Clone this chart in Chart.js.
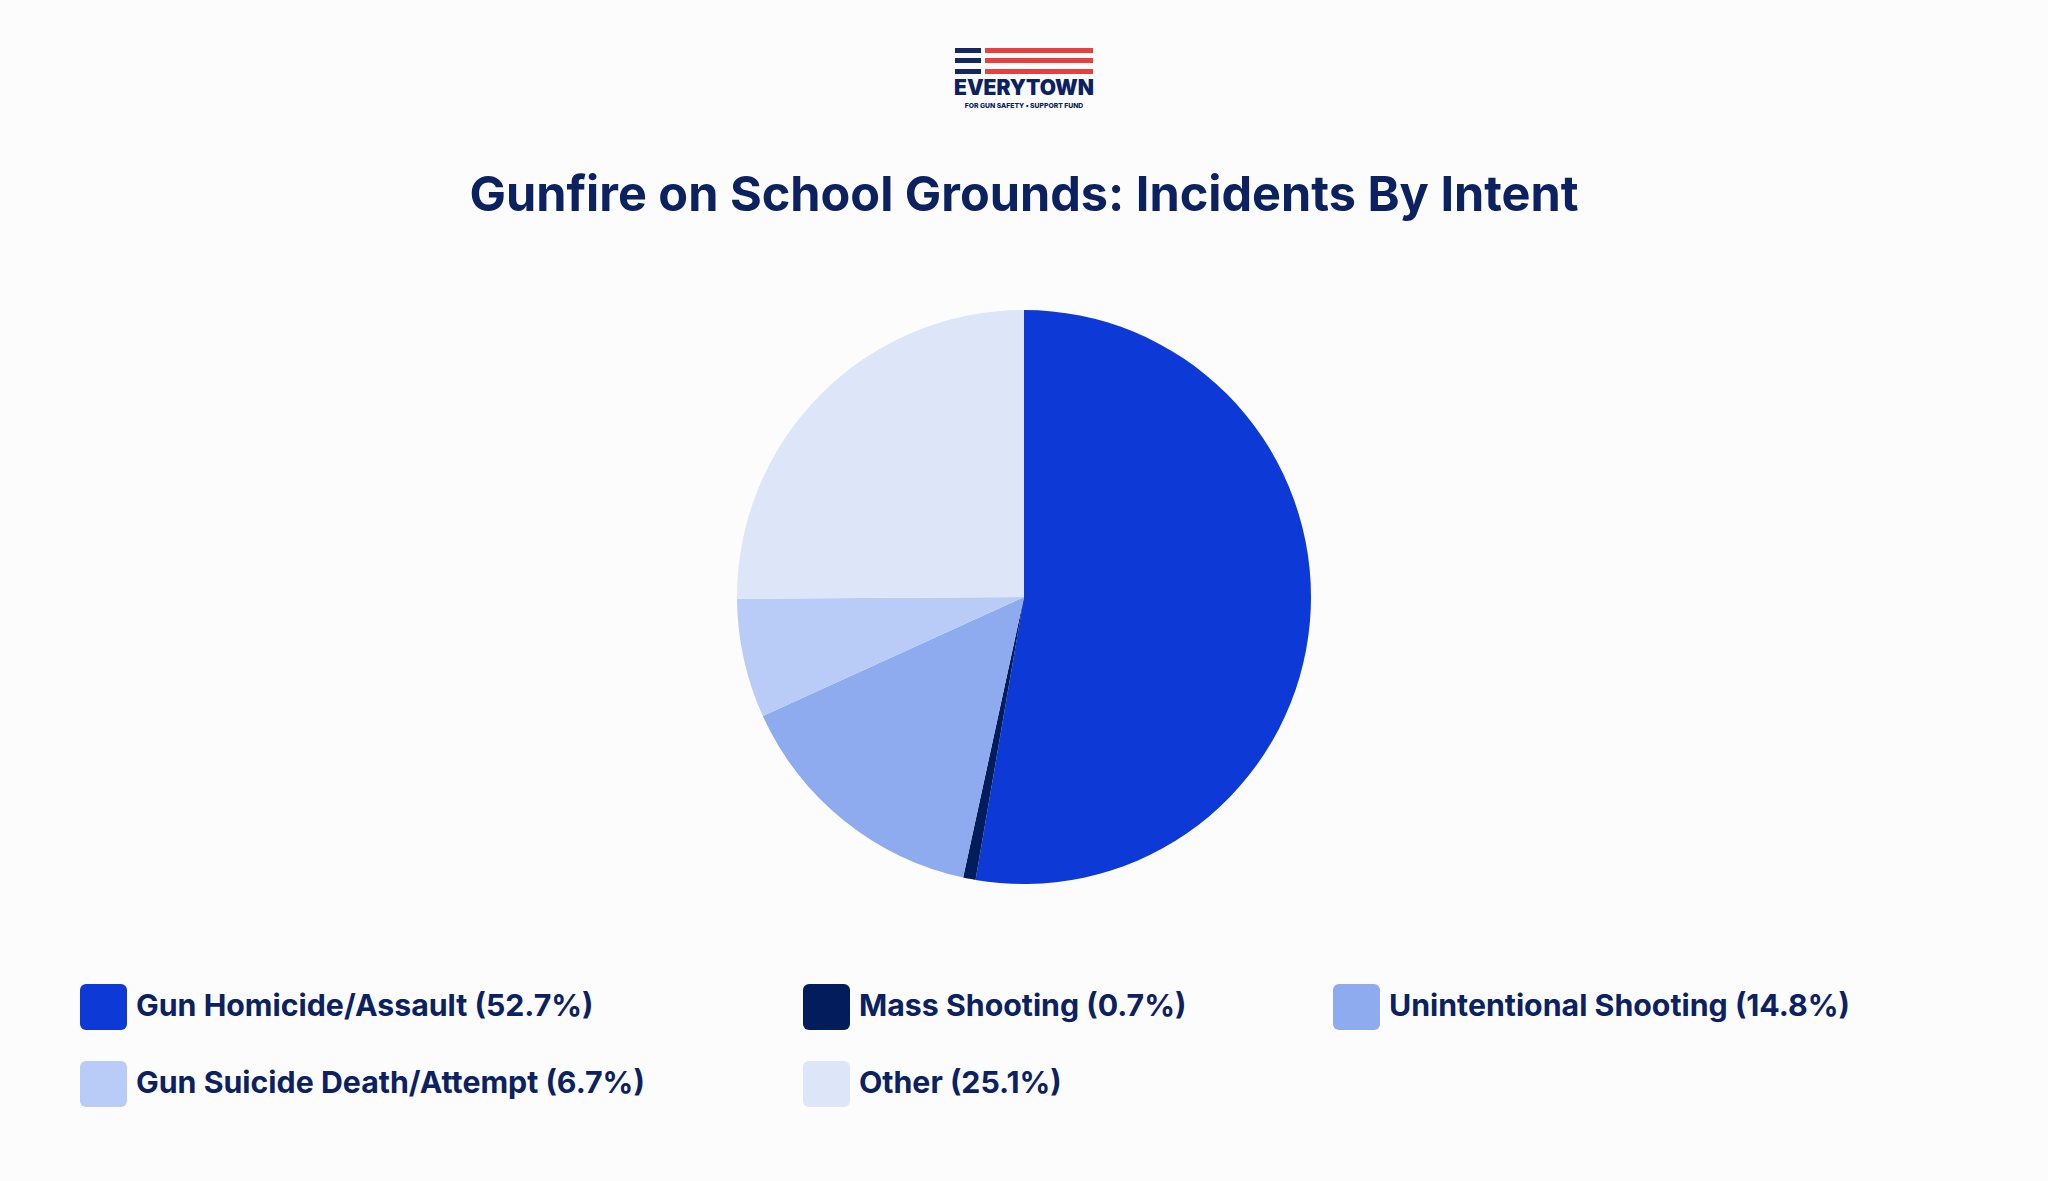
<!DOCTYPE html>
<html>
<head>
<meta charset="utf-8">
<script src="https://cdn.jsdelivr.net/npm/chart.js@4.4.0/dist/chart.umd.min.js"></script>
<style>
  html, body { margin: 0; padding: 0; }
  body { width: 2048px; height: 1181px; background: #fcfcfc; position: relative; overflow: hidden; font-family: Inter, 'Noto Sans', sans-serif; color: #0b2160; }
  .bar { position: absolute; height: 5px; }
  .navy { background: #14275e; left: 955px; width: 26px; }
  .red { background: #e8403f; left: 985px; width: 108px; }
  #logo1 { position: absolute; left: 953px; top: 75px; width: 142px; text-align: center; font-weight: 900; font-size: 21px; letter-spacing: 0; line-height: 26px; }
  #logo2 { position: absolute; left: 953px; top: 101px; width: 142px; text-align: center; font-weight: 800; font-size: 6.8px; line-height: 10px; white-space: nowrap; }
  #title { position: absolute; left: 0; width: 2048px; top: 164px; text-align: center; font-weight: 700; font-size: 48.6px; line-height: 60px; }
  #wrap { position: absolute; left: 737px; top: 310px; width: 574px; height: 574px; }
  .item { position: absolute; display: flex; align-items: center; height: 47px; }
  .sw { width: 47px; height: 46px; border-radius: 6px; margin-right: 9px; }
  .lab { font-weight: 700; font-size: 30.3px; white-space: nowrap; margin-top: -3px; }
</style>
</head>
<body>
<div class="bar navy" style="top:48px"></div>
<div class="bar navy" style="top:58px"></div>
<div class="bar navy" style="top:69px"></div>
<div class="bar red" style="top:48px"></div>
<div class="bar red" style="top:58px"></div>
<div class="bar red" style="top:69px"></div>
<div id="logo1">EVERYTOWN</div>
<div id="logo2">FOR GUN SAFETY • SUPPORT FUND</div>
<div id="title">Gunfire on School Grounds: Incidents By Intent</div>
<div id="wrap"><canvas id="pie"></canvas></div>
<div id="legend"></div>
<script>
// categorias e valores (%)
var categories = ['Gun Homicide/Assault', 'Mass Shooting', 'Unintentional Shooting', 'Gun Suicide Death/Attempt', 'Other']
var shares = [52.7, 0.7, 14.8, 6.7, 25.1]
var colors = ['#0d3ad7', '#021c5c', '#8eabf0', '#b9ccf7', '#dde6f9']

var ctx = document.getElementById('pie').getContext('2d')

var pie = new Chart(ctx, {
  type: 'pie',
  data: {
    labels: categories,
    datasets: [
      {
        data: shares,
        backgroundColor: colors,
        borderWidth: 0,
      },
    ],
  },
  options: {
    responsive: true,
    maintainAspectRatio: false,
    animation: false,
    layout: { padding: 0 },
    plugins: {
      legend: { display: false },
      tooltip: { enabled: false },
    },
  },
})

// legenda em grade (3 colunas)
var colX = [80, 803, 1333]
var rowY = [983, 1060]
var legend = document.getElementById('legend')
categories.forEach(function (name, i) {
  var item = document.createElement('div')
  item.className = 'item'
  item.style.left = colX[i % 3] + 'px'
  item.style.top = rowY[Math.floor(i / 3)] + 'px'
  item.innerHTML = '<div class="sw" style="background:' + colors[i] + '"></div>' +
    '<span class="lab">' + name + ' (' + shares[i].toFixed(1) + '%)</span>'
  legend.appendChild(item)
})
</script>
</body>
</html>
